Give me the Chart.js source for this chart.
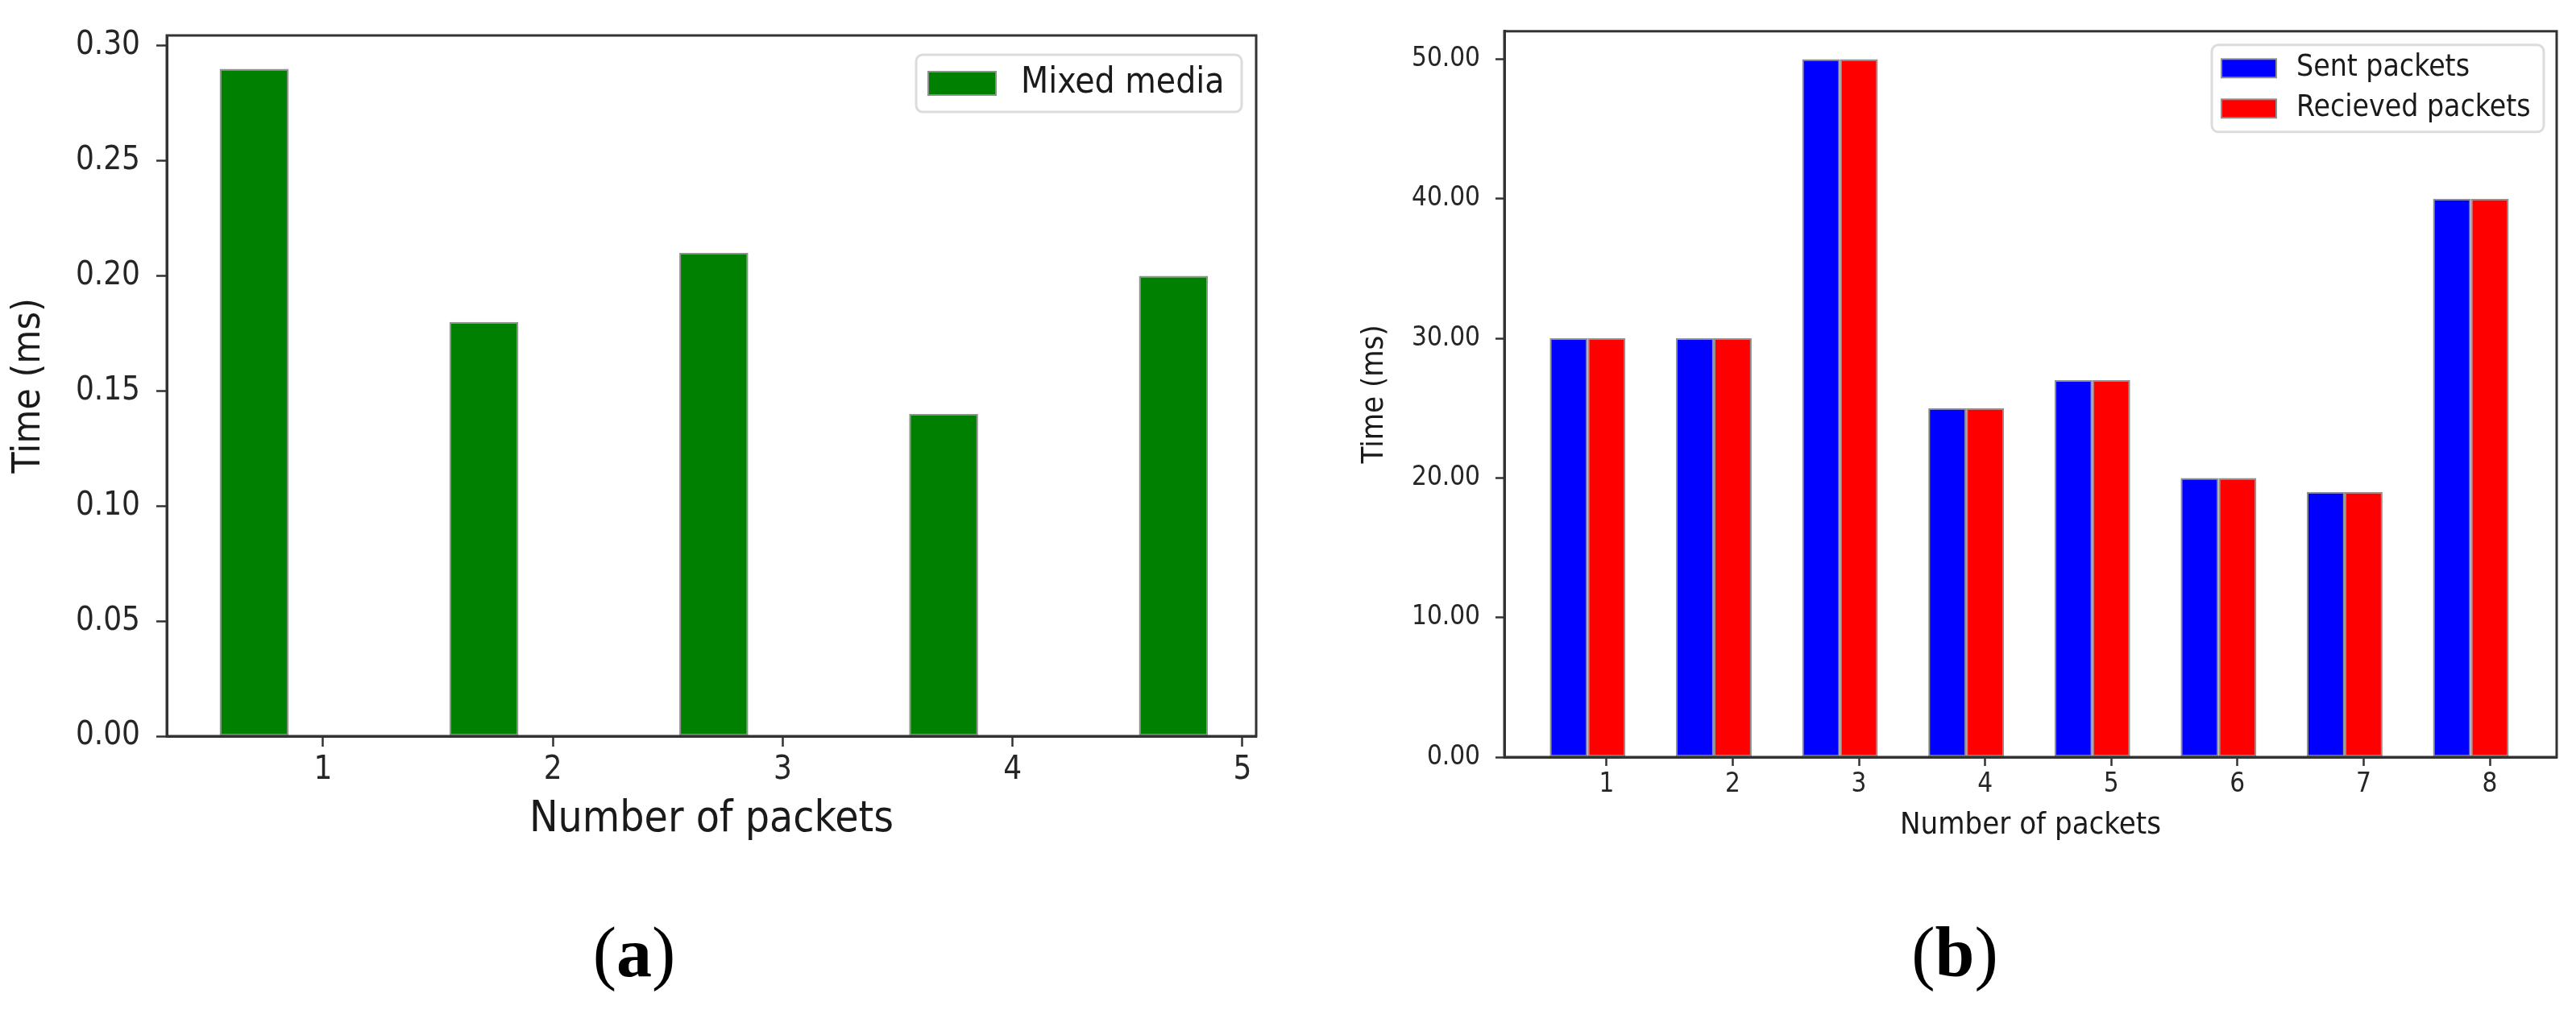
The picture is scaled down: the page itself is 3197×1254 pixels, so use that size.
<!DOCTYPE html>
<html>
<head>
<meta charset="utf-8">
<title>Packets timing</title>
<script src="https://cdn.jsdelivr.net/npm/chart.js@4.4.1/dist/chart.umd.min.js"></script>
<style>
  body { margin: 0; background: #fff; width: 3197px; height: 1254px; position: relative; overflow: hidden; }
  canvas { position: absolute; top: 0; }
  #chartA { left: 0; }
  #chartB { left: 1650px; }
  .cap { position: absolute; top: 1139px; width: 200px; text-align: center; font-family: 'Liberation Serif', serif; font-size: 88px; line-height: 1; color: #000; }
</style>
</head>
<body>
<canvas id="chartA" width="1600" height="1100"></canvas>
<canvas id="chartB" width="1547" height="1100"></canvas>
<div class="cap" style="left:687px">(<b>a</b>)</div>
<div class="cap" style="left:2326px">(<b>b</b>)</div>
<script>
'use strict';

// (a) mixed media
const packetsA = [1, 2, 3, 4, 5];
const mixedMedia = [0.29, 0.18, 0.21, 0.14, 0.20];

// (b) sent / recieved
const packetsB = [1, 2, 3, 4, 5, 6, 7, 8];
const sentPackets = [30, 30, 50, 25, 27, 20, 19, 40];
const receivedPackets = [30, 30, 50, 25, 27, 20, 19, 40];

// the source figure is a bit squeezed sideways, so a condensed face fits it better
const fontFamily = '"DejaVu Sans Condensed", "DejaVu Sans", sans-serif';
Chart.defaults.font.family = fontFamily;
Chart.defaults.color = '#262626';

const axisColor = '#333';

function toPoints(xs, ys) {
  return xs.map((x, i) => ({ x: x, y: ys[i] }));
}

// top + right spines
const frame = {
  id: 'frame',
  afterDraw(chart) {
    const a = chart.chartArea;
    const ctx = chart.ctx;
    ctx.save();
    ctx.strokeStyle = axisColor;
    ctx.lineWidth = 3;
    ctx.strokeRect(a.left, a.top, a.right - a.left, a.bottom - a.top);
    ctx.restore();
  }
};

// matplotlib style legend in the upper right
const boxLegend = {
  id: 'boxLegend',
  afterDraw(chart, args, o) {
    const ctx = chart.ctx;
    const a = chart.chartArea;
    const sets = chart.data.datasets;
    const x0 = a.right - o.right - o.width;
    const y0 = a.top + o.top;
    const h = o.padY * 2 + sets.length * o.rowH;
    ctx.save();
    ctx.beginPath();
    ctx.roundRect(x0, y0, o.width, h, 8);
    ctx.fillStyle = 'rgba(255,255,255,0.8)';
    ctx.fill();
    ctx.strokeStyle = '#dcdcdc';
    ctx.lineWidth = 3;
    ctx.stroke();
    ctx.font = o.fontSize + 'px ' + fontFamily;
    ctx.textBaseline = 'middle';
    sets.forEach((ds, i) => {
      const cy = y0 + o.padY + o.rowH * (i + 0.5);
      ctx.fillStyle = ds.backgroundColor;
      ctx.fillRect(x0 + o.padX, cy - o.patchH / 2, o.patchW, o.patchH);
      ctx.strokeStyle = ds.borderColor;
      ctx.lineWidth = 2;
      ctx.strokeRect(x0 + o.padX, cy - o.patchH / 2, o.patchW, o.patchH);
      ctx.fillStyle = '#1a1a1a';
      ctx.fillText(ds.label, x0 + o.padX + o.patchW + o.gap, cy);
    });
    ctx.restore();
  }
};

function xAxis(min, max, fontSize, tickLen, pad, title, titleSize, height) {
  return {
    type: 'linear',
    offset: false,
    min: min,
    max: max,
    ticks: { stepSize: 1, includeBounds: false, font: { size: fontSize }, padding: pad },
    grid: { offset: false, drawOnChartArea: false, tickLength: tickLen, tickWidth: 2.5, tickColor: axisColor },
    border: { color: axisColor, width: 3 },
    title: { display: true, text: title, font: { size: titleSize }, padding: 0, color: '#1a1a1a' },
    afterFit: (s) => { s.height = height; }
  };
}

function shiftedAxis(min, max, shift) {
  // hidden copy of the x axis, used to put a series beside the tick
  return {
    type: 'linear', display: false, offset: false, grid: { offset: false },
    min: min + shift, max: max + shift, ticks: { stepSize: 1, includeBounds: false }
  };
}

function yAxis(max, step, digits, fontSize, tickLen, pad, titleSize, titlePad, width) {
  return {
    min: 0,
    max: max,
    ticks: { stepSize: step, includeBounds: false, font: { size: fontSize }, padding: pad, callback: (v) => v.toFixed(digits) },
    grid: { drawOnChartArea: false, tickLength: tickLen, tickWidth: 2.5, tickColor: axisColor },
    border: { color: axisColor, width: 3 },
    title: { display: true, text: 'Time (ms)', font: { size: titleSize }, padding: { top: titlePad, bottom: 0 }, color: '#1a1a1a' },
    afterFit: (s) => { s.width = width; }
  };
}

const barStyle = { borderColor: '#8f8f8f', borderWidth: 2, borderSkipped: false, grouped: false, categoryPercentage: 0.3, barPercentage: 1 };

new Chart(document.getElementById('chartA'), {
  type: 'bar',
  data: {
    datasets: [Object.assign({
      label: 'Mixed media',
      data: toPoints(packetsA, mixedMedia),
      backgroundColor: '#008000',
      xAxisID: 'xs'
    }, barStyle)]
  },
  options: {
    responsive: false,
    animation: false,
    layout: { padding: { top: 33, right: 41, bottom: 50, left: 0 } },
    scales: {
      x: xAxis(0.32, 5.06, 40, 13, 6, 'Number of packets', 53, 136),
      xs: shiftedAxis(0.32, 5.06, 0.3),
      y: yAxis(0.3045, 0.05, 2, 40, 13, 20, 48, 8, 207)
    },
    plugins: {
      legend: { display: false },
      tooltip: { enabled: false },
      boxLegend: { right: 18, top: 24, width: 404, padX: 15, padY: 12, rowH: 47, patchW: 84, patchH: 29, gap: 31, fontSize: 44 }
    }
  },
  plugins: [frame, boxLegend]
});

new Chart(document.getElementById('chartB'), {
  type: 'bar',
  data: {
    datasets: [
      Object.assign({
        label: 'Sent packets',
        data: toPoints(packetsB, sentPackets),
        backgroundColor: '#0000ff',
        xAxisID: 'xs'
      }, barStyle),
      Object.assign({
        label: 'Recieved packets',
        data: toPoints(packetsB, receivedPackets),
        backgroundColor: '#ff0000',
        xAxisID: 'x'
      }, barStyle)
    ]
  },
  options: {
    responsive: false,
    animation: false,
    layout: { padding: { top: 31, right: 24, bottom: 52, left: 0 } },
    scales: {
      x: xAxis(0.19, 8.53, 33, 11, 4, 'Number of packets', 38, 108),
      xs: shiftedAxis(0.19, 8.53, 0.3),
      y: yAxis(52, 10, 2, 33, 11, 19, 38, 33, 217)
    },
    plugins: {
      legend: { display: false },
      tooltip: { enabled: false },
      boxLegend: { right: 16, top: 17, width: 412, padX: 12, padY: 4, rowH: 50, patchW: 68, patchH: 23, gap: 25, fontSize: 37 }
    }
  },
  plugins: [frame, boxLegend]
});
</script>
</body>
</html>
